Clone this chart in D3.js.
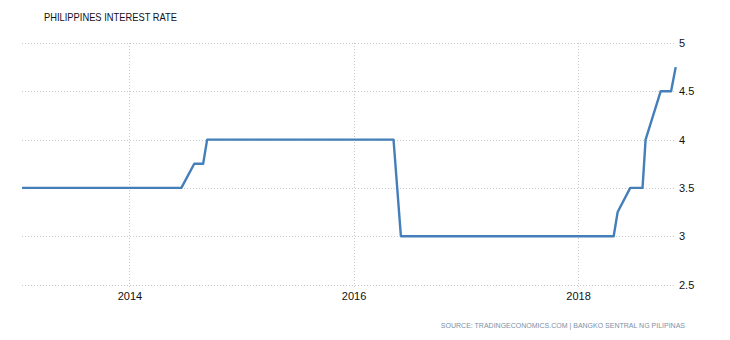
<!DOCTYPE html>
<html>
<head>
<meta charset="utf-8">
<script src="https://cdn.jsdelivr.net/npm/d3@7"></script>
<style>
  html, body { margin: 0; padding: 0; background: #fff; }
  svg { display: block; }
</style>
</head>
<body>
<script>
// ---- Data ----
const title = "PHILIPPINES INTEREST RATE";
const source = "SOURCE: TRADINGECONOMICS.COM | BANGKO SENTRAL NG PILIPINAS";
const dates = ["2013-01-16","2014-06-19","2014-07-31","2014-08-29","2014-09-11","2016-05-10","2016-06-03",
               "2018-04-27","2018-05-10","2018-06-20","2018-07-30","2018-08-09","2018-09-27","2018-10-31","2018-11-15"];
const rates = [3.5, 3.5, 3.75, 3.75, 4.0, 4.0, 3.0, 3.0, 3.25, 3.5, 3.5, 4.0, 4.5, 4.5, 4.75];
const xTickYears = [2014, 2016, 2018];
const yTicks = [2.5, 3, 3.5, 4, 4.5, 5];

// ---- Chart ----
const W = 730, H = 340;
const plotL = 22, plotR = 676, plotT = 43, plotB = 284.5;
const parse = d3.utcParse("%Y-%m-%d");
const data = dates.map((d, i) => ({ date: parse(d), value: rates[i] }));

const svg = d3.select("body").append("svg").attr("width", W).attr("height", H);

const x = d3.scaleUtc()
  .domain([parse("2013-01-16"), parse("2018-11-16")])
  .range([plotL, plotR]);
const y = d3.scaleLinear().domain([2.5, 5]).range([plotB, plotT]);

// horizontal gridlines
svg.append("g").selectAll("line").data(yTicks).join("line")
  .attr("x1", plotL).attr("x2", plotR)
  .attr("y1", d => Math.round(y(d)) + 0.5).attr("y2", d => Math.round(y(d)) + 0.5)
  .attr("stroke", "#c8c8c8").attr("stroke-width", 1).attr("stroke-dasharray", "1,2");

// vertical gridlines
const xTicks = xTickYears.map(yr => new Date(Date.UTC(yr, 0, 1)));
svg.append("g").selectAll("line").data(xTicks).join("line")
  .attr("x1", d => Math.round(x(d)) + 0.5).attr("x2", d => Math.round(x(d)) + 0.5)
  .attr("y1", plotT).attr("y2", plotB + 3)
  .attr("stroke", "#c8c8c8").attr("stroke-width", 1).attr("stroke-dasharray", "1,2");

// x axis labels
const xAxis = d3.axisBottom(x).tickValues(xTicks).tickFormat(d3.utcFormat("%Y")).tickSize(0).tickPadding(0);
const gx = svg.append("g").attr("transform", `translate(0,${plotB + 8})`).call(xAxis);
gx.select(".domain").remove();
gx.selectAll("text")
  .attr("font-family", "'Liberation Sans', Arial, sans-serif")
  .attr("font-size", 11).attr("fill", "#111").attr("dy", "0.71em");

// y axis labels (right)
const yAxis = d3.axisRight(y).tickValues(yTicks).tickFormat(d3.format("")).tickSize(0).tickPadding(0);
const gy = svg.append("g").attr("transform", `translate(679,0)`).call(yAxis);
gy.select(".domain").remove();
gy.selectAll("text")
  .attr("font-family", "'Liberation Sans', Arial, sans-serif")
  .attr("font-size", 11).attr("fill", "#111");

// line
const line = d3.line().x(d => x(d.date)).y(d => y(d.value));
svg.append("path").datum(data)
  .attr("d", line)
  .attr("fill", "none")
  .attr("stroke", "#447fba")
  .attr("stroke-width", 2.4)
  .attr("stroke-linejoin", "round");

// title
svg.append("text")
  .attr("x", 44).attr("y", 21)
  .attr("font-family", "'Liberation Sans', Arial, sans-serif")
  .attr("font-size", 11.5).attr("fill", "#111122")
  .attr("textLength", 133).attr("lengthAdjust", "spacingAndGlyphs")
  .text(title);

// source
svg.append("text")
  .attr("x", 685).attr("y", 328).attr("text-anchor", "end")
  .attr("font-family", "'Liberation Sans', Arial, sans-serif")
  .attr("font-size", 7.0).attr("fill", "#7b90a8")
  .text(source);
</script>
</body>
</html>
